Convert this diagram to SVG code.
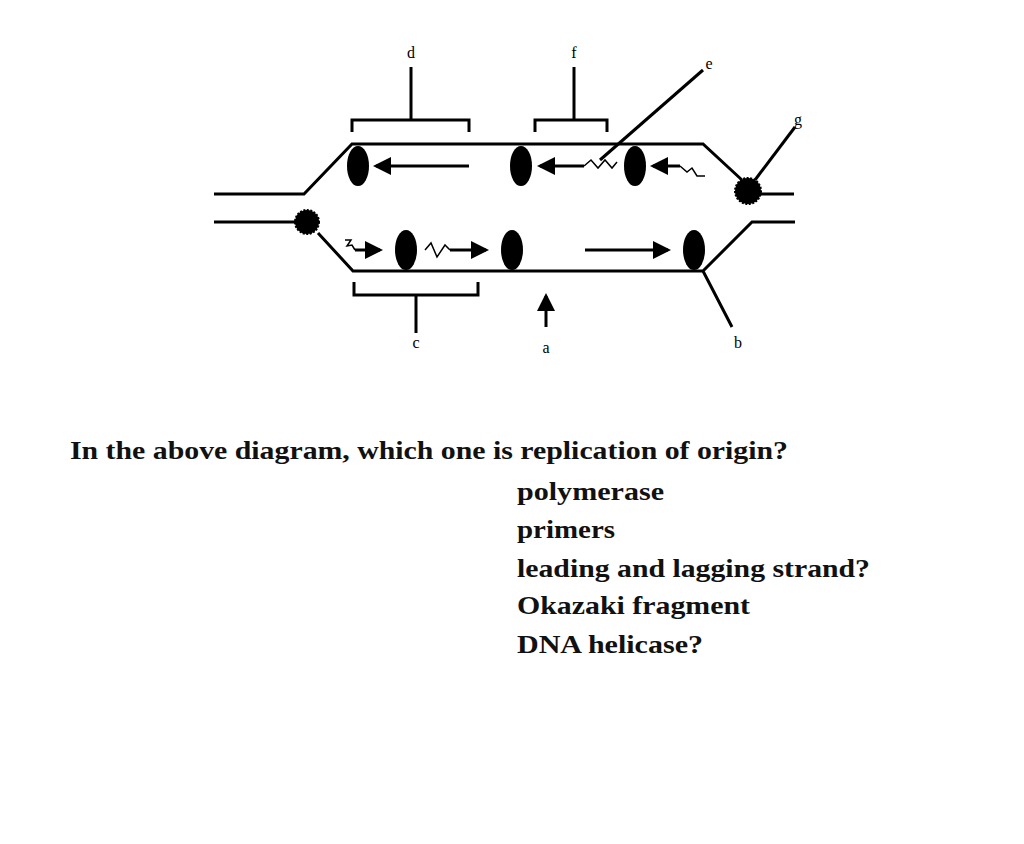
<svg xmlns="http://www.w3.org/2000/svg" width="1024" height="844" viewBox="0 0 1024 844">
<style>
.s{stroke:#000;stroke-width:3;fill:none}
.z{stroke:#000;stroke-width:1.5;fill:none}
.lb{font-family:"Liberation Serif",serif;font-size:16px;text-anchor:middle}
.q{font-family:"Liberation Serif",serif;font-size:26px;font-weight:bold;fill:#111}
</style>
<defs>
<marker id="ah" markerWidth="6" markerHeight="6" refX="5" refY="3" orient="auto" markerUnits="strokeWidth"><path d="M0,0L6,3L0,6Z" fill="#000"/></marker>
</defs>
<rect width="1024" height="844" fill="#fff"/>
<g id="strands">
<path class="s" d="M214,194H304L352,144H703L742,180M760,194H794"/>
<path class="s" d="M214,222H296M318,233L353,271H703L752,222H795M703,271L732,327"/>
</g>
<g id="helicases">
<circle cx="748" cy="191" r="13" fill="#000" stroke="#000" stroke-width="2" stroke-dasharray="2 1.5"/>
<circle cx="307" cy="222" r="12" fill="#000" stroke="#000" stroke-width="2" stroke-dasharray="2 1.5"/>
</g>
<g id="polymerases" fill="#000">
<ellipse cx="358" cy="166" rx="11" ry="20"/>
<ellipse cx="521" cy="166" rx="11" ry="20"/>
<ellipse cx="635" cy="166" rx="11" ry="20"/>
<ellipse cx="406" cy="250" rx="11" ry="20"/>
<ellipse cx="512" cy="250" rx="11" ry="20"/>
<ellipse cx="694" cy="250" rx="11" ry="20"/>
</g>
<g id="connectors">
<path class="s" d="M469,166H376" marker-end="url(#ah)"/>
<path class="s" d="M584,166H540" marker-end="url(#ah)"/>
<path class="z" d="M584,166L591,160L598,168L605,160L612,168L617,162"/>
<path class="s" d="M680,166H653" marker-end="url(#ah)"/>
<path class="z" d="M680,166L687,172L692,168L697,176L705,176"/>
<path class="s" d="M355,250H380" marker-end="url(#ah)"/>
<path class="z" d="M345,240L351,240L347,246L352,245L355,250"/>
<path class="s" d="M450,250H486" marker-end="url(#ah)"/>
<path class="z" d="M425,250L431,243L437,257L445,245L450,250"/>
<path class="s" d="M585,250H668" marker-end="url(#ah)"/>
<path class="s" d="M546,327V296" marker-end="url(#ah)"/>
<path class="s" d="M352,132V120H469V132M411,120V67"/>
<path class="s" d="M535,132V120H607V132M574,120V67"/>
<path class="s" d="M354,282V295H478V282M416,295V333"/>
<path class="s" d="M600,160L703,70"/>
<path class="s" d="M755,180L795,127"/>
</g>
<g id="labels">
<text class="lb" x="411" y="58">d</text>
<text class="lb" x="574" y="58">f</text>
<text class="lb" x="709" y="69">e</text>
<text class="lb" x="798" y="125">g</text>
<text class="lb" x="416" y="348">c</text>
<text class="lb" x="546" y="353">a</text>
<text class="lb" x="738" y="348">b</text>
</g>
<g id="question">
<text class="q" x="70" y="459" textLength="718" lengthAdjust="spacingAndGlyphs">In the above diagram, which one is replication of origin?</text>
<text class="q" x="517" y="500" textLength="147" lengthAdjust="spacingAndGlyphs">polymerase</text>
<text class="q" x="517" y="538" textLength="98" lengthAdjust="spacingAndGlyphs">primers</text>
<text class="q" x="517" y="577" textLength="353" lengthAdjust="spacingAndGlyphs">leading and lagging strand?</text>
<text class="q" x="517" y="614" textLength="233" lengthAdjust="spacingAndGlyphs">Okazaki fragment</text>
<text class="q" x="517" y="653" textLength="186" lengthAdjust="spacingAndGlyphs">DNA helicase?</text>
</g>
</svg>
